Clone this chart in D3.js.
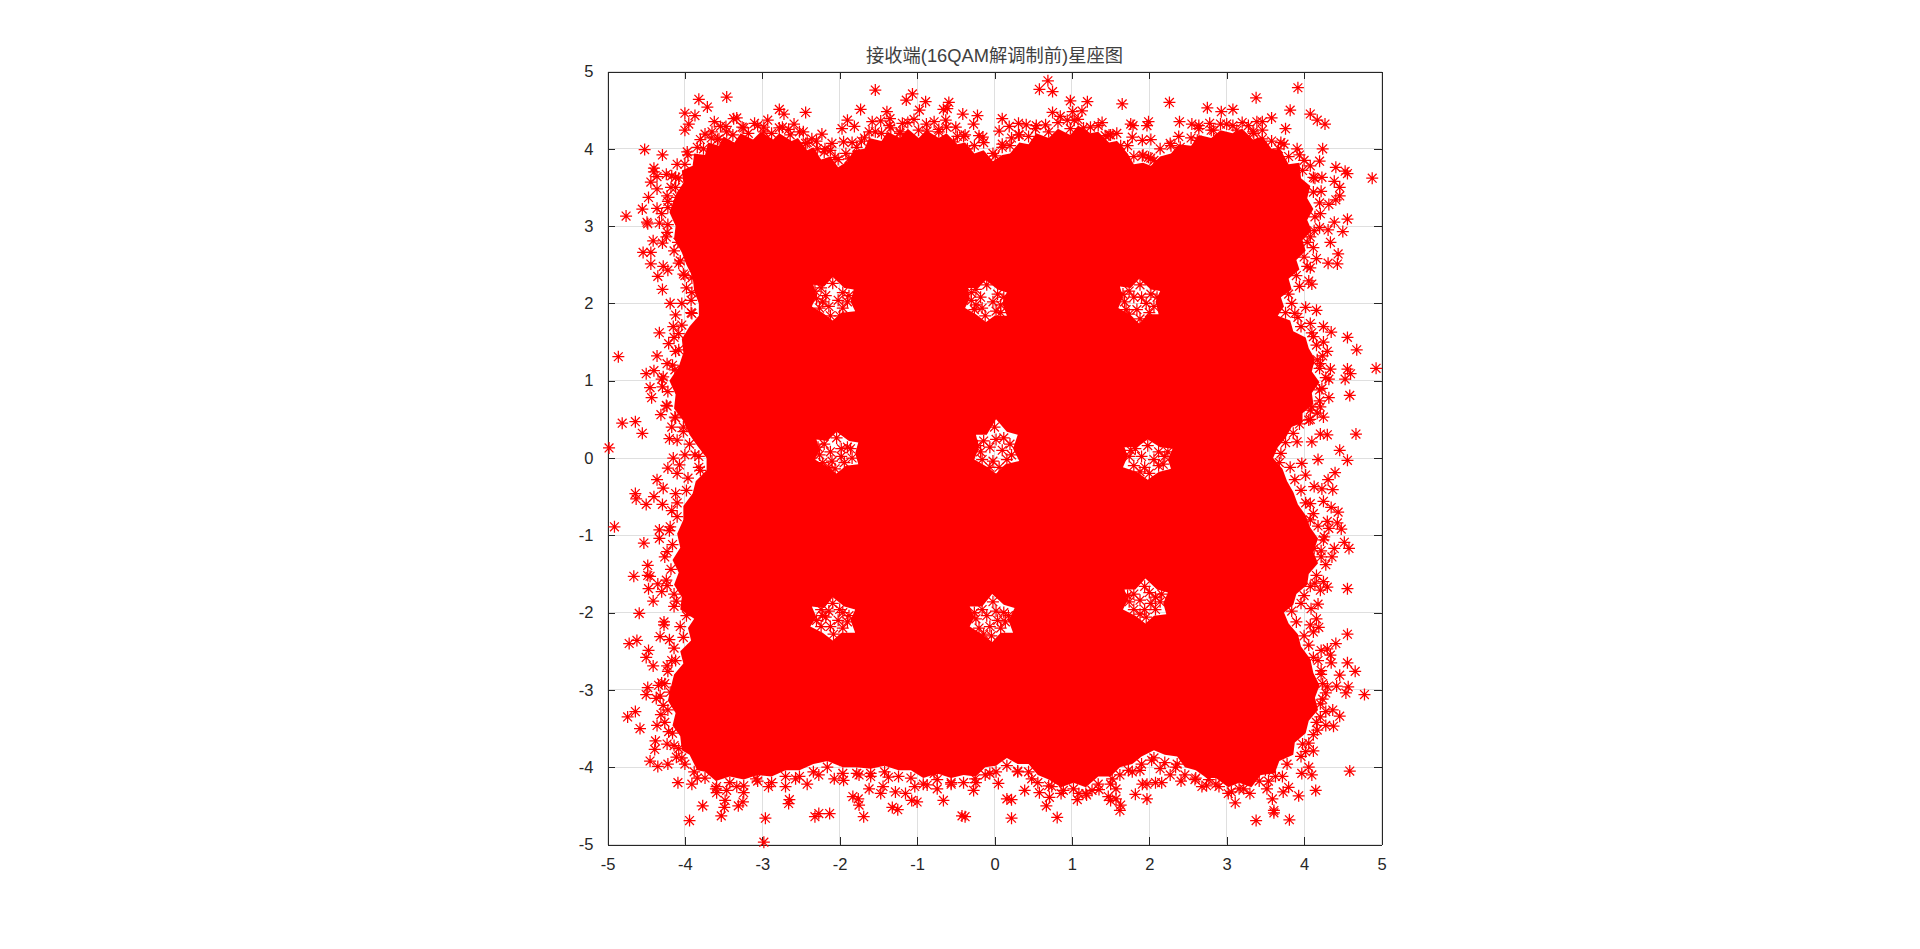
<!DOCTYPE html>
<meta charset="utf-8">
<style>
body { margin: 0; background: #fff; }
svg { display: block; }
.tick text { font: 16.5px "Liberation Sans", Arial, sans-serif; fill: #262626; }
.title { font: 18.3px "Liberation Sans", "Noto Sans CJK SC", sans-serif; fill: #404040; text-anchor: middle; }
.grid line { stroke: #dfdfdf; stroke-width: 1; shape-rendering: crispEdges; }
.axis path, .axis line { stroke: #262626; shape-rendering: crispEdges; }
.dense { fill: #f00; fill-rule: evenodd; }
.pt { fill: none; stroke: #f00; stroke-width: 1.25; }
</style>
<svg width="1920" height="949"></svg>
<script src="https://d3js.org/d3.v7.min.js"></script>
<script>

var titleText = "接收端(16QAM解调制前)星座图";
var tickValues = [-5, -4, -3, -2, -1, 0, 1, 2, 3, 4, 5];

// the clusters are so overplotted they read as solid red, so that part is an
// outline, single stars below were read one by one
var denseEdge = [[-4.12,3.4],[-4.02,3.56],[-4.04,3.72],[-3.9,3.78],[-3.88,3.94],[-3.74,3.92],[-3.7,4.08],[-3.56,4.04],[-3.5,4.16],[-3.36,4.08],[-3.28,4.2],[-3.12,4.12],[-3.02,4.22],[-2.86,4.12],[-2.78,4.2],[-2.62,4.1],[-2.54,4.14],[-2.42,3.98],[-2.34,4.02],[-2.24,3.86],[-2.12,3.9],[-2.02,3.76],[-1.9,3.84],[-1.82,3.98],[-1.68,4],[-1.62,4.14],[-1.46,4.1],[-1.38,4.22],[-1.22,4.14],[-1.12,4.26],[-.98,4.14],[-.88,4.24],[-.72,4.14],[-.62,4.2],[-.48,4.06],[-.38,4.08],[-.26,3.94],[-.14,3.98],[-.02,3.84],[.1,3.92],[.2,3.94],[.32,4.08],[.44,4.06],[.54,4.2],[.7,4.14],[.82,4.26],[.98,4.18],[1.08,4.3],[1.24,4.2],[1.34,4.22],[1.48,4.08],[1.58,4.1],[1.72,3.94],[1.8,3.8],[1.92,3.82],[2.02,3.78],[2.14,3.9],[2.28,3.94],[2.38,4.06],[2.54,4.04],[2.64,4.18],[2.8,4.14],[2.92,4.24],[3.08,4.2],[3.2,4.26],[3.34,4.12],[3.46,4.16],[3.58,4],[3.7,3.98],[3.8,3.8],[3.94,3.82],[3.96,3.62],[4.08,3.52],[4.04,3.36],[4.12,3.22],
  [4.04,3.08],[4.1,2.94],[3.98,2.82],[4.02,2.68],[3.9,2.56],[3.94,2.44],[3.8,2.32],[3.84,2.18],[3.7,2.08],[3.74,1.96],[3.66,1.84],[3.82,1.78],[3.86,1.64],[4.02,1.56],[4.06,1.42],[4.14,1.28],[4.1,1.12],[4.2,.98],[4.1,.84],[4.12,.7],[3.98,.58],[3.98,.46],[3.84,.4],[3.76,.26],[3.66,.14],[3.6,0],[3.72,-.14],[3.78,-.3],[3.86,-.44],[3.92,-.6],[4.02,-.74],[4.08,-.9],[4.18,-1.04],[4.12,-1.22],[4.18,-1.36],[4.06,-1.5],[4.04,-1.64],[3.9,-1.76],[3.86,-1.9],[3.74,-2],[3.8,-2.14],[3.92,-2.28],[3.96,-2.44],[4.08,-2.6],[4.12,-2.78],[4.2,-2.94],[4.14,-3.1],[4.18,-3.26],[4.06,-3.4],[4.02,-3.56],[3.88,-3.68],[3.86,-3.84],[3.68,-3.92],[3.62,-4.08],
  [3.44,-4.1],[3.32,-4.26],[3.16,-4.2],[3.02,-4.26],[2.86,-4.14],[2.74,-4.14],[2.6,-4.04],[2.46,-4],[2.36,-3.86],[2.2,-3.84],[2.06,-3.78],[1.9,-3.86],[1.78,-3.96],[1.62,-4],[1.5,-4.12],[1.34,-4.12],[1.18,-4.26],[1.02,-4.2],[.86,-4.26],[.7,-4.16],[.56,-4.1],[.44,-3.96],[.3,-3.96],[.16,-3.88],[.02,-3.98],[-.12,-4],[-.24,-4.12],[-.4,-4.1],[-.56,-4.14],[-.74,-4.08],[-.92,-4.14],[-1.08,-4.04],[-1.24,-4.04],[-1.42,-3.98],[-1.6,-4.02],[-1.78,-4],[-1.96,-4],[-2.16,-3.92],[-2.34,-3.96],[-2.52,-4.04],[-2.7,-4.04],[-2.88,-4.12],[-3.06,-4.1],[-3.24,-4.16],[-3.42,-4.12],[-3.6,-4.18],[-3.74,-4.06],[-3.84,-4.04],
  [-3.94,-3.84],[-4.04,-3.78],[-4.06,-3.6],[-4.16,-3.46],[-4.12,-3.3],[-4.22,-3.14],[-4.18,-2.96],[-4.14,-2.8],[-4.02,-2.66],[-4.06,-2.5],[-3.92,-2.36],[-3.96,-2.2],[-3.88,-2.08],[-4.06,-1.96],[-4.04,-1.8],[-4.14,-1.64],[-4.08,-1.48],[-4.16,-1.32],[-4.06,-1.16],[-4.1,-.98],[-4.02,-.8],[-4.02,-.62],[-3.9,-.46],[-3.86,-.3],[-3.72,-.16],[-3.72,0],[-3.84,.16],[-3.94,.3],[-4.02,.48],[-4.14,.64],[-4.12,.82],[-4.2,1],[-4.08,1.18],[-4.02,1.36],[-4.04,1.54],[-3.94,1.7],[-3.82,1.84],[-3.82,2],[-3.88,2.16],[-3.9,2.34],[-3.98,2.5],[-4.04,2.66],[-4.14,2.84],[-4.12,3],[-4.2,3.18]];
var gapHoles = [
  [[-2.09,2.34],[-1.94,2.2],[-1.82,2.18],[-1.86,2.02],[-1.8,1.9],[-1.98,1.88],[-2.09,1.78],[-2.22,1.88],[-2.36,1.96],[-2.3,2.1],[-2.34,2.24],[-2.2,2.22]],
  [[-.11,2.3],[.04,2.18],[.16,2.14],[.1,2],[.16,1.84],[0,1.84],[-.11,1.76],[-.24,1.86],[-.38,1.94],[-.32,2.06],[-.34,2.2],[-.22,2.2]],
  [[1.87,2.32],[2.02,2.18],[2.14,2.16],[2.08,2.02],[2.12,1.86],[1.98,1.86],[1.87,1.74],[1.74,1.86],[1.6,1.94],[1.66,2.08],[1.62,2.22],[1.76,2.2]],
  [[-2.04,.34],[-1.88,.22],[-1.76,.2],[-1.8,.06],[-1.76,-.08],[-1.92,-.1],[-2.04,-.2],[-2.18,-.1],[-2.32,-.02],[-2.26,.1],[-2.3,.24],[-2.16,.22]],
  [[.02,.5],[.16,.34],[.3,.3],[.24,.12],[.32,-.04],[.14,-.08],[.02,-.2],[-.12,-.1],[-.26,-.02],[-.2,.14],[-.24,.3],[-.1,.3]],
  [[1.98,.24],[2.14,.14],[2.3,.12],[2.24,-.02],[2.28,-.14],[2.12,-.18],[1.98,-.28],[1.84,-.18],[1.66,-.12],[1.72,.02],[1.68,.14],[1.84,.14]],
  [[-2.09,-1.8],[-1.94,-1.92],[-1.8,-1.96],[-1.86,-2.1],[-1.8,-2.26],[-1.98,-2.26],[-2.09,-2.36],[-2.22,-2.26],[-2.38,-2.18],[-2.3,-2.06],[-2.36,-1.92],[-2.2,-1.94]],
  [[-.03,-1.76],[.12,-1.9],[.26,-1.94],[.18,-2.1],[.24,-2.26],[.08,-2.26],[-.03,-2.38],[-.16,-2.28],[-.32,-2.18],[-.26,-2.06],[-.32,-1.92],[-.16,-1.92]],
  [[1.95,-1.56],[2.1,-1.7],[2.24,-1.74],[2.18,-1.88],[2.22,-2.02],[2.06,-2.04],[1.95,-2.14],[1.82,-2.04],[1.66,-1.96],[1.72,-1.84],[1.68,-1.7],[1.82,-1.7]]
];

var outTopLeft = [[-4.76,3.13],[-4.52,3.99],[-4.29,3.92],[-4.4,3.75],[-4.4,3.7],[-4.44,3.57],[-4.36,3.64],[-4.24,3.67],[-4.36,3.48],[-4.47,3.37],[-4.55,3.22],[-4.36,3.23],[-4.49,3.05],[-4.48,3.03],[-4.33,3.04],[-4.23,2.92],[-4.41,2.81],[-4.29,2.78],[-4.54,2.66],[-4.44,2.66],[-4.44,2.51],[-4.28,2.48],[-4.22,2.43],[-4.35,2.35],[-4.29,2.18],[-4,4.46],[-3.87,4.43],[-3.82,4.64],[-3.71,4.54],[-3.46,4.67],[-4,4.24],[-3.95,4.32],[-3.97,3.96],[-4.1,3.8],[-4.17,3.65],[-4.12,3.63],[-4.18,3.5],[-4.23,3.39],[-4.1,3.37],[-4.22,3.24],[-4.09,2.79],[-4.06,2.55],[-4.02,2.38],[-3.91,2.33],[-3.91,2.14],[-4.19,2]];
var outTop = [[-3.33,4.4],[-3.37,4.39],[-3.62,4.35],[-3.54,4.29],[-3.47,4.29],[-3.74,4.19],[-3.65,4.22],[-3.8,4.12],[-3.56,4.13],[-3.1,4.33],[-2.93,4.37],[-2.78,4.51],[-2.72,4.45],[-2.44,4.47],[-2.78,4.27],[-2.66,4.25],[-2.59,4.32],[-2.47,4.22],[-2.23,4.19],[-3.24,4.27],[-2.98,4.22],[-2.36,4.13],[-2.44,4.07],[-2.29,4],[-2.19,4],[-2.1,4.07],[-1.97,4.26],[-1.9,4.37],[-1.81,4.29],[-1.95,4.09],[-2.06,3.89],[-1.88,3.87],[-1.78,4.02],[-1.73,4.51],[-1.54,4.76],[-1.68,4.14],[-1.58,4.35],[-1.47,4.36],[-1.54,4.22],[-1.39,4.48],[-1.35,4.39],[-1.34,4.27],[-1.22,4.2],[-1.19,4.33],[-1.14,4.63],[-1.06,4.71],[-.97,4.5],[-.89,4.61],[-1.04,4.38],[-.78,4.35],[-.66,4.51],[-.59,4.6],[-.61,4.52],[-.41,4.45],[-.63,4.37],[-.5,4.28],[-.4,4.16],[-.72,4.25],[-.53,4.09],[-.87,4.23],[-1.37,4.09],[-1.13,4.13],[-.22,4.43],[-.27,4.32],[-.2,4.17],[-.35,4],
  [.69,4.88],[.58,4.77],[.75,4.74],[.98,4.62],[1.2,4.61],[.75,4.47],[.85,4.42],[1.01,4.48],[1.13,4.49],[.94,4.37],[1.03,4.37],[.66,4.31],[.53,4.26],[.41,4.31],[.31,4.33],[.19,4.29],[.1,4.39],[.06,4.23],[-.15,4.15],[.31,4.18],[.22,4.14],[.1,4.06],[.01,3.91],[.18,3.83],[1.15,4.27],[1.3,4.13],[1.39,4.34],[1.43,4.17],[1.5,4.18],[1.65,4.58],[1.76,4.32],[1.79,4.3],[1.78,4.15],[1.97,4.3],[1.99,4.35],[1.91,4.11],[2.02,4.12],[2.26,4.6],[2.39,4.35],[2.55,4.32],[2.64,4.3],[2.75,4.53],[2.93,4.48],[3.08,4.51],[2.78,4.33],[3,4.32],[3.38,4.66],[3.58,4.4],[3.39,4.35],[3.46,4.35],[3.28,4.3],[3.76,4.26],[3.82,4.5],[3.92,4.79],[4.08,4.45],[4.17,4.37],[4.27,4.32],[4.24,4],[3.91,4],[3.67,4],[3.74,4.06],[2.27,4.07],[2.4,4.02],[2.06,3.85],[1.99,3.89],[1.91,3.91],[1.63,4.04],[2.62,4.11],[2.83,4.24],[3.13,4.24],[3.46,4.13],[3.35,4.2]];
var outRight = [[4.41,3.76],[4.53,3.71],[4.56,3.68],[4.88,3.62],[4.39,3.58],[4.46,3.5],[4.46,3.39],[4.41,3.34],[4.32,3.28],[4.56,3.09],[4.39,3.05],[4.5,2.93],[4.31,2.95],[4.34,2.79],[4.44,2.64],[4.31,2.52],[4.43,2.51],[4.16,2.58],[4.08,2.46],[4.06,2.29],[4.1,2.25],[4.2,3.84],[4.23,3.63],[4.22,3.45],[4.08,3.78],[4.12,3.63],[4.21,3.16],[4.13,2.94],[4.04,2.79],[4,3.85],
  [4.02,1.95],[4.16,1.91],[3.88,1.87],[4.25,1.7],[4.35,1.63],[4.56,1.56],[4.68,1.4],[4.3,1.38],[4.93,1.16],[4.56,1.15],[4.6,1.09],[4.53,1.02],[4.34,1.15],[4.32,1.02],[4.59,.81],[4.32,.78],[4.23,.9],[4.25,.53],[4.06,.49],[4.21,.31],[4.3,.3],[4.67,.31],[4.46,.1],[4.56,-.03],[4.18,-.02],[4.4,-.19],[4.31,-.28],[4.37,-.41],[4.23,-.4],[4.02,-.22],[3.97,-.07],[4.1,.21],[3.91,.21],[4.25,-.56],[4.35,-.64],[4.44,-.7],[4.43,-.84],[4.48,-.92],[4.3,-.82],[4.32,-.91],[4.52,-1.09],[4.58,-1.17],[4.39,-1.17],[4.25,-1.06],[4.08,-.59],[4.13,-.37],[4.08,-.8],[4.13,-1.17],[4.22,-1.28],[4.36,-1.28],[4.17,1.27],[4.21,1.22],[4.12,1.57],[4.25,1.5],[4.1,.66],[4.21,.66],[4.08,1.74],[4.17,.58],
  [4.56,-1.69],[4.3,-1.67],[4.21,-1.71],[4.25,-1.6],[4.08,-1.66],[4.18,-1.89],[4.09,-1.95],[4.16,-2.08],[4.08,-2.16],[4.19,-2.19],[4.12,-2.25],[4.56,-2.28],[4.41,-2.4],[4.3,-2.47],[4.34,-2.55],[4.22,-2.49],[4.12,-2.58],[4.35,-2.65],[4.56,-2.65],[4.66,-2.76],[4.22,-2.75],[4.46,-2.81],[4.24,-2.92],[4.42,-2.95],[4.57,-2.96],[4.54,-3.04],[4.78,-3.06],[4.28,-3.04],[4.21,-3.18],[4.37,-3.26],[4.46,-3.34],[4.21,-3.35],[4.38,-3.47],[4.28,-3.46],[4.17,-3.52],[4.06,-3.69],[4.12,-3.79],[4.02,-3.8]];
var outLeft = [[-4.86,1.31],[-4.33,1.62],[-4.36,1.32],[-4.5,1.09],[-4.4,1.13],[-4.28,1.05],[-4.45,.91],[-4.29,.92],[-4.43,.78],[-4.23,.67],[-4.31,.56],[-4.13,.53],[-4.81,.45],[-4.64,.47],[-4.55,.32],[-4.98,.13],[-4.17,.4],[-4.2,.25],[-4.15,0],[-4.22,-.13],[-4.07,-.09],[-4.36,-.28],[-4.1,-.2],[-4.28,-.39],[-4.64,-.46],[-4.63,-.53],[-4.5,-.6],[-4.4,-.5],[-4.29,-.6],[-4.12,-.46],[-4.17,-.68],[-4.91,-.89],[-4.33,-.93],[-4.19,-.89],[-4.53,-1.1],[-4.33,-1.04],[-4.23,-1.21],[-4.12,1.85],[-4.04,2],[-4.15,1.7],[-4.21,1.48],[-4.08,1.4],[-4.23,1.22],[-4.13,1.14],[-4,.04],[-4.1,.23],[-4.02,.4],[-3.87,.04],[-3.8,-.16],[-3.91,1.87],[-4.08,1.61],
  [-4.66,-1.53],[-4.48,-1.39],[-4.48,-1.52],[-4.45,-1.53],[-4.35,-1.63],[-4.47,-1.69],[-4.23,-1.65],[-4.3,-1.73],[-4.41,-1.85],[-4.11,-1.85],[-4.59,-2.01],[-4.27,-2.12],[-4.27,-2.16],[-4.32,-2.31],[-4.2,-2.35],[-4.72,-2.4],[-4.62,-2.36],[-4.47,-2.49],[-4.5,-2.58],[-4.41,-2.69],[-4.23,-2.69],[-4.17,-2.62],[-4.48,-2.97],[-4.5,-3.06],[-4.34,-2.94],[-4.37,-3.11],[-4.3,-2.91],[-4.19,-3.03],[-4.28,-3.2],[-4.31,-3.32],[-4.64,-3.28],[-4.74,-3.35],[-4.58,-3.5],[-4.36,-3.46],[-4.21,-3.54],[-4.38,-3.66],[-4.39,-3.77],[-4.23,-3.7],[-4.08,-3.76],[-4.45,-3.92],[-4.35,-3.99],[-4.22,-3.96],[-4.11,-3.87],[-4,-3.96]];
var outBottom = [[-4.09,-4.2],[-3.91,-4.22],[-3.88,-4.06],[-3.77,-4.5],[-3.94,-4.69],[-3.59,-4.25],[-3.59,-4.33],[-3.46,-4.3],[-3.48,-4.43],[-3.49,-4.52],[-3.53,-4.63],[-3.31,-4.5],[-3.25,-4.45],[-3.24,-4.33],[-3.33,-4.25],[-3.08,-4.15],[-2.92,-4.25],[-2.98,-4.97],[-2.96,-4.66],[-2.7,-4.25],[-2.65,-4.42],[-2.66,-4.47],[-2.42,-4.22],[-2.57,-4.15],[-2.27,-4.1],[-2.32,-4.64],[-2.27,-4.6],[-2.13,-4.6],[-2.07,-4.15],[-1.95,-4.17],[-1.83,-4.38],[-1.76,-4.41],[-1.75,-4.49],[-1.69,-4.64],[-1.62,-4.28],[-1.75,-4.1],[-1.6,-4.08],[-1.47,-4.34],[-1.44,-4.25],[-1.37,-4.13],[-1.32,-4.52],[-1.25,-4.55],[-1.28,-4.32],[-1.15,-4.34],[-1.07,-4.43],[-1,-4.45],[-1.03,-4.25],[-.87,-4.23],[-.74,-4.28],[-.66,-4.43],[-.56,-4.2],[-.78,-4.08],[-.42,-4.63],[-.38,-4.64],[-.27,-4.3],[-.25,-4.15],
  [-.06,-4.08],[.05,-4.21],[.16,-4.41],[.22,-4.42],[.22,-4.66],[.39,-4.3],[.3,-4.05],[.58,-4.33],[.71,-4.39],[.67,-4.5],[.81,-4.65],[.48,-4.15],[.74,-4.25],[.89,-4.3],[1.07,-4.42],[1.09,-4.34],[1.19,-4.36],[1.26,-4.3],[1.35,-4.29],[1.47,-4.38],[1.5,-4.43],[1.57,-4.28],[1.52,-4.15],[1.57,-4.41],[1.63,-4.49],[1.62,-4.56],[1.82,-4.35],[1.97,-4.41],[1.91,-4.22],[1.97,-4.22],[2.08,-4.2],[2.16,-4.2],[2.27,-4.1],[2.41,-4.18],[1.88,-4.04],[1.73,-4.04],[2.14,-4.02],[2.34,-4],[2.03,-3.91],[2.59,-4.16],[2.68,-4.25],[2.77,-4.16],[2.9,-4.25],[3.06,-4.32],[3.11,-4.46],[3.22,-4.28],[3.38,-4.69],[3.52,-4.28],[3.59,-4.41],[3.61,-4.56],[3.61,-4.59],[3.81,-4.68],[3.73,-4.32],[3.8,-4.26],[3.93,-4.37],[4.15,-4.3],[4.59,-4.05],[3.97,-4.08],[4.06,-4],[4.1,-4.1],[3.63,-4.12],[3.5,-4.04]];

// stars crowding just outside the solid outline
var fringeTop = [[-4.08,3.62],[-4,3.8],[-3.96,3.92],[-3.84,4.02],[-3.76,4],[-3.66,4.14],[-3.58,4.12],[-3.46,4.22],[-3.38,4.18],[-3.26,4.28],[-3.18,4.2],[-3.06,4.3],[-2.98,4.28],[-2.88,4.2],[-2.74,4.28],[-2.64,4.18],[-2.52,4.22],[-2.42,4.08],[-2.3,4.1],[-2.2,3.96],[-2.12,3.98],[-2.02,3.86],[-1.92,3.94],[-1.84,4.08],[-1.72,4.1],[-1.62,4.22],[-1.46,4.2],[-1.36,4.3],[-1.22,4.22],[-1.12,4.34],[-.98,4.24],[-.88,4.32],[-.72,4.22],[-.62,4.28],[-.48,4.16],[-.38,4.18],[-.26,4.04],[-.14,4.08],[-.02,3.94],[.1,4.02],[.2,4.04],[.32,4.18],[.44,4.16],[.54,4.3],[.7,4.22],[.82,4.34],[.98,4.26],[1.08,4.38],[1.24,4.28],[1.34,4.3],[1.48,4.18],[1.58,4.2],[1.72,4.04],[1.8,3.9],[1.92,3.92],[2.02,3.88],[2.14,4],[2.28,4.04],[2.38,4.16],[2.54,4.14],[2.64,4.26],[2.8,4.24],[2.92,4.32],[3.08,4.3],[3.2,4.34],[3.34,4.22],[3.46,4.24],[3.58,4.1],[3.7,4.08],[3.8,3.9],[3.94,3.92],[3.98,3.72],[4.14,3.62],[4.12,3.44],[4.2,3.3]];
var fringeRight = [[4.14,3.12],[4.2,2.98],[4.08,2.86],[4.12,2.72],[4,2.6],[4.04,2.48],[3.9,2.36],[3.94,2.22],[3.8,2.12],[3.84,2],[3.76,1.88],[3.92,1.82],[3.96,1.7],[4.1,1.62],[4.16,1.46],[4.24,1.32],[4.2,1.16],[4.28,1.04],[4.2,.88],[4.2,.74],[4.08,.62],[4.08,.5],[3.94,.44],[3.86,.32],[3.76,.2],[3.7,.06],[3.68,-.06],[3.82,-.12],[3.88,-.28],[3.96,-.42],[4.02,-.58],[4.12,-.72],[4.18,-.88],[4.26,-1.02],[4.22,-1.2],[4.28,-1.38],[4.16,-1.52],[4.14,-1.62],[4,-1.78],[3.96,-1.88],[3.84,-1.98],[3.9,-2.12],[4,-2.3],[4.06,-2.42],[4.18,-2.62],[4.22,-2.8],[4.3,-2.96],[4.24,-3.12],[4.28,-3.28],[4.16,-3.42],[4.12,-3.58],[3.98,-3.7],[3.96,-3.86],[3.78,-3.96],[3.72,-4.12]];
var fringeBottom = [[3.54,-4.18],[3.42,-4.18],[3.3,-4.34],[3.16,-4.28],[3.02,-4.34],[2.86,-4.22],[2.74,-4.24],[2.6,-4.14],[2.46,-4.1],[2.36,-3.96],[2.2,-3.94],[2.06,-3.88],[1.9,-3.96],[1.78,-4.06],[1.62,-4.1],[1.5,-4.22],[1.34,-4.22],[1.18,-4.34],[1.02,-4.28],[.86,-4.34],[.7,-4.24],[.56,-4.2],[.44,-4.06],[.3,-4.06],[.16,-3.98],[.02,-4.06],[-.12,-4.1],[-.24,-4.2],[-.4,-4.2],[-.56,-4.22],[-.74,-4.16],[-.92,-4.22],[-1.08,-4.14],[-1.24,-4.12],[-1.42,-4.06],[-1.6,-4.12],[-1.78,-4.08],[-1.96,-4.08],[-2.16,-4],[-2.34,-4.06],[-2.52,-4.12],[-2.7,-4.12],[-2.88,-4.2],[-3.06,-4.18],[-3.24,-4.24],[-3.42,-4.2],[-3.6,-4.28],[-3.74,-4.14],[-3.84,-4.14]];
var fringeLeft = [[-4.04,-3.88],[-4.14,-3.72],[-4.16,-3.56],[-4.26,-3.42],[-4.22,-3.26],[-4.32,-3.08],[-4.26,-2.92],[-4.22,-2.76],[-4.12,-2.62],[-4.14,-2.46],[-4.02,-2.32],[-4.06,-2.18],[-3.98,-2.04],[-4.14,-1.92],[-4.14,-1.76],[-4.24,-1.58],[-4.18,-1.44],[-4.26,-1.28],[-4.16,-1.12],[-4.2,-.94],[-4.1,-.76],[-4.1,-.58],[-3.98,-.42],[-3.96,-.26],[-3.82,-.12],[-3.82,.02],[-3.94,.18],[-4.02,.34],[-4.12,.52],[-4.24,.68],[-4.22,.86],[-4.3,1.02],[-4.16,1.2],[-4.12,1.38],[-4.14,1.56],[-4.04,1.72],[-3.92,1.88],[-3.92,2.04],[-3.98,2.2],[-4,2.36],[-4.08,2.52],[-4.14,2.68],[-4.24,2.86],[-4.22,3.02],[-4.3,3.16],[-4.22,3.32],[-4.12,3.5]];

// speckled pockets between the clusters
var gapsUpper = [[-2.24,2.2],[-2.09,2.26],[-1.96,2.14],[-2.3,2.06],[-2.18,2.1],[-2.02,2.04],[-1.9,2.02],[-2.26,1.94],[-2.14,1.96],[-1.96,1.94],[-2.12,1.84],[-2,1.84],[-2.22,2.02],[-1.88,2.1],[-2.32,2.16],
  [-.24,2.18],[-.1,2.24],[.04,2.12],[-.3,2.04],[-.18,2.08],[-.02,2.02],[.08,1.98],[-.26,1.92],[-.16,1.94],[.02,1.9],[-.12,1.84],[.08,1.88],[-.24,1.98],[.12,2.08],[-.3,2.14],
  [1.74,2.16],[1.88,2.24],[2.02,2.12],[1.68,2.02],[1.8,2.08],[1.96,2],[2.06,1.96],[1.7,1.92],[1.84,1.92],[2,1.88],[1.88,1.8],[1.74,1.86],[1.9,2.08],[2.1,2.08],[1.66,2.12]];
var gapsMiddle = [[-2.2,.18],[-2.04,.26],[-1.9,.14],[-2.26,.04],[-2.12,.08],[-1.98,.02],[-1.84,0],[-2.22,-.06],[-2.1,-.04],[-1.94,-.06],[-2.06,-.14],[-2.14,-.12],[-1.86,.12],[-2.28,.14],[-1.98,.12],
  [-.14,.22],[0,.4],[.12,.26],[-.18,.08],[-.06,.14],[.1,.1],[.22,.04],[-.16,-.02],[-.02,-.04],[.16,-.02],[-.06,-.12],[.06,-.12],[.02,.24],[-.22,.16],[.2,.18],
  [1.82,.12],[1.98,.16],[2.12,.08],[1.74,.02],[1.9,.02],[2.06,-.02],[2.2,.02],[1.8,-.1],[1.94,-.12],[2.12,-.1],[2,-.2],[1.88,-.18],[2.18,-.08],[1.76,.1],[2.24,.08]];
var gapsLower = [[-2.24,-1.96],[-2.09,-1.88],[-1.96,-2],[-2.3,-2.1],[-2.18,-2.06],[-2.02,-2.1],[-1.9,-2.12],[-2.24,-2.18],[-2.12,-2.18],[-1.96,-2.2],[-2.08,-2.28],[-2,-1.96],[-2.22,-2.04],[-1.88,-2.04],[-2.14,-1.98],
  [-.16,-1.96],[-.02,-1.86],[.12,-2],[-.24,-2.08],[-.1,-2.04],[.04,-2.1],[.14,-2.12],[-.2,-2.2],[-.06,-2.18],[.08,-2.2],[-.04,-2.3],[-.14,-2.28],[.18,-2.04],[-.26,-2],[.02,-1.98],
  [1.8,-1.76],[1.94,-1.66],[2.08,-1.8],[1.74,-1.86],[1.88,-1.84],[2.02,-1.88],[2.14,-1.86],[1.8,-1.96],[1.94,-1.96],[2.08,-1.96],[1.96,-2.06],[1.88,-2.02],[2.16,-1.76],[1.72,-1.78],[2,-1.74]];

var allPoints = [].concat(outTopLeft, outTop, outRight, outLeft, outBottom,
  fringeTop, fringeRight, fringeBottom, fringeLeft, gapsUpper, gapsMiddle, gapsLower);

var svg = d3.select("svg");

var x = d3.scaleLinear().domain([-5, 5]).range([607.5, 1381.5]),
    y = d3.scaleLinear().domain([-5, 5]).range([844.5, 71.5]);

var grid = svg.append("g").attr("class", "grid");
grid.selectAll(".gx").data(tickValues).enter().append("line")
    .attr("x1", d => x(d)).attr("x2", d => x(d))
    .attr("y1", y(-5)).attr("y2", y(5));
grid.selectAll(".gy").data(tickValues).enter().append("line")
    .attr("x1", x(-5)).attr("x2", x(5))
    .attr("y1", d => y(d)).attr("y2", d => y(d));

// matlab style box, ticks pointing in on all four sides
var tickIn = -7.7;
function addAxis(axis, tx, ty, labels) {
  var g = svg.append("g").attr("class", "axis")
      .attr("transform", "translate(" + tx + "," + ty + ")")
      .call(axis.tickValues(tickValues).tickSize(tickIn).tickSizeOuter(0)
        .tickPadding(labels ? 14 : 0).tickFormat(labels ? String : ""));
  return g;
}
addAxis(d3.axisBottom(x), 0, y(-5), true);
addAxis(d3.axisLeft(y), x(-5), 0, true);
addAxis(d3.axisTop(x), 0, y(5), false);
addAxis(d3.axisRight(y), x(5), 0, false);

svg.append("text").attr("class", "title")
    .attr("x", x(0)).attr("y", 62)
    .text(titleText);

function ring(pts) {
  return "M" + pts.map(p => x(p[0]) + "," + y(p[1])).join("L") + "Z";
}
svg.append("path").attr("class", "dense")
    .attr("d", ring(denseEdge) + gapHoles.map(ring).join(""));

var star = "M-6,0H6M0,-6V6M-4.4,-4.4L4.4,4.4M-4.4,4.4L4.4,-4.4";
svg.selectAll(".pt").data(allPoints).enter().append("path")
    .attr("class", "pt")
    .attr("transform", d => "translate(" + x(d[0]) + "," + y(d[1]) + ")")
    .attr("d", star);

</script>
